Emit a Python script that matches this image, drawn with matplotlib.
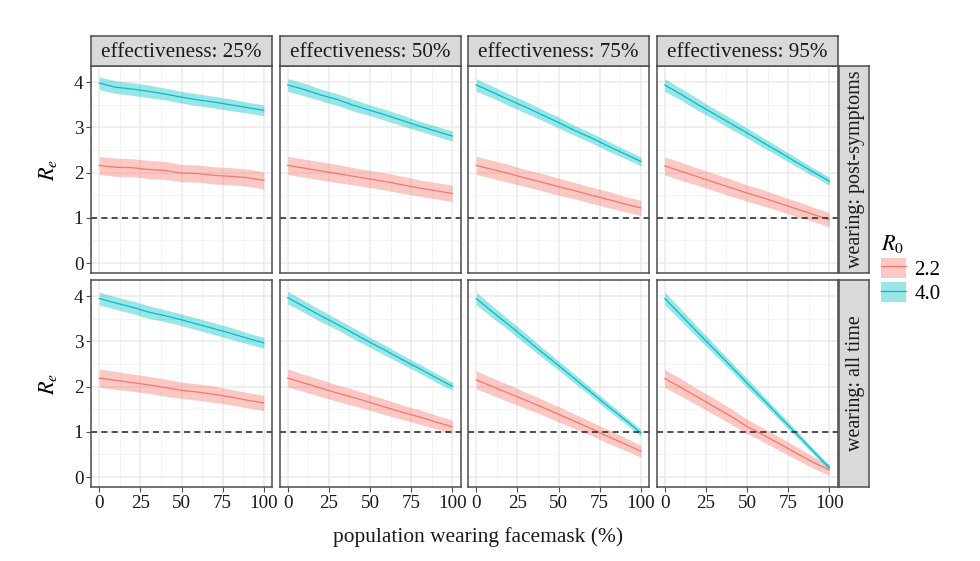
import matplotlib
matplotlib.use("Agg")
import matplotlib.pyplot as plt
from matplotlib.patches import Patch
from matplotlib.lines import Line2D
from matplotlib.legend_handler import HandlerTuple
from matplotlib.ticker import MultipleLocator

plt.rcParams['font.family'] = ['Liberation Serif', 'DejaVu Serif']
plt.rcParams['mathtext.fontset'] = 'stix'

# ---------------- data ----------------
x_pct = [0, 10, 20, 30, 40, 50, 60, 70, 80, 90, 100]
effectiveness_labels = ["effectiveness: 25%", "effectiveness: 50%",
                        "effectiveness: 75%", "effectiveness: 95%"]
wearing_labels = ["wearing: post-symptoms", "wearing: all time"]
r0_labels = ["2.2", "4.0"]
x_ticks = [0, 25, 50, 75, 100]
y_ticks = [0, 1, 2, 3, 4]

# wearing: post-symptoms, R0 = 2.2 (one list per effectiveness)
post_r22 = [
    [2.16, 2.12, 2.11, 2.07, 2.05, 1.99, 1.98, 1.94, 1.92, 1.89, 1.83],
    [2.16, 2.10, 2.04, 1.98, 1.92, 1.86, 1.80, 1.73, 1.66, 1.60, 1.54],
    [2.16, 2.07, 1.98, 1.88, 1.79, 1.69, 1.60, 1.50, 1.41, 1.31, 1.22],
    [2.15, 2.03, 1.91, 1.79, 1.67, 1.55, 1.44, 1.32, 1.20, 1.08, 0.96],
]
post_r40 = [
    [3.98, 3.89, 3.85, 3.80, 3.74, 3.67, 3.61, 3.56, 3.50, 3.44, 3.38],
    [3.94, 3.84, 3.72, 3.62, 3.49, 3.38, 3.27, 3.15, 3.03, 2.92, 2.81],
    [3.94, 3.78, 3.61, 3.45, 3.28, 3.11, 2.93, 2.77, 2.59, 2.42, 2.25],
    [3.94, 3.73, 3.51, 3.30, 3.09, 2.88, 2.66, 2.45, 2.23, 2.02, 1.81],
]
# wearing: all time
all_r22 = [
    [2.19, 2.14, 2.09, 2.04, 1.98, 1.92, 1.88, 1.83, 1.77, 1.70, 1.64],
    [2.19, 2.08, 1.97, 1.86, 1.76, 1.65, 1.54, 1.43, 1.33, 1.22, 1.11],
    [2.15, 2.00, 1.85, 1.70, 1.55, 1.39, 1.23, 1.07, 0.90, 0.74, 0.57],
    [2.18, 1.98, 1.77, 1.56, 1.35, 1.12, 0.93, 0.73, 0.53, 0.33, 0.16],
]
all_r40 = [
    [3.95, 3.85, 3.76, 3.65, 3.57, 3.48, 3.38, 3.28, 3.18, 3.07, 2.97],
    [3.97, 3.77, 3.57, 3.38, 3.18, 2.98, 2.79, 2.59, 2.40, 2.20, 2.01],
    [3.95, 3.65, 3.36, 3.06, 2.76, 2.47, 2.17, 1.87, 1.57, 1.28, 0.98],
    [3.95, 3.58, 3.20, 2.83, 2.46, 2.08, 1.71, 1.33, 0.96, 0.58, 0.21],
]
# half-widths of the uncertainty ribbons
post_r22_hw = [
    [0.20, 0.20, 0.20, 0.20, 0.20, 0.19, 0.19, 0.19, 0.19, 0.19, 0.19],
    [0.20, 0.20, 0.20, 0.20, 0.19, 0.19, 0.19, 0.19, 0.18, 0.18, 0.18],
    [0.20, 0.20, 0.20, 0.19, 0.19, 0.19, 0.18, 0.18, 0.18, 0.17, 0.17],
    [0.20, 0.20, 0.19, 0.19, 0.19, 0.18, 0.18, 0.17, 0.17, 0.16, 0.16],
]
post_r40_hw = [
    [0.14, 0.14, 0.14, 0.14, 0.13, 0.13, 0.13, 0.13, 0.13, 0.12, 0.12],
    [0.14, 0.14, 0.13, 0.13, 0.13, 0.12, 0.12, 0.12, 0.11, 0.11, 0.11],
    [0.14, 0.13, 0.13, 0.13, 0.12, 0.12, 0.11, 0.11, 0.11, 0.10, 0.10],
    [0.14, 0.13, 0.13, 0.12, 0.12, 0.11, 0.11, 0.10, 0.10, 0.09, 0.09],
]
all_r22_hw = [
    [0.20, 0.20, 0.19, 0.19, 0.19, 0.18, 0.18, 0.18, 0.17, 0.17, 0.17],
    [0.20, 0.19, 0.19, 0.18, 0.18, 0.17, 0.17, 0.16, 0.16, 0.15, 0.15],
    [0.20, 0.19, 0.19, 0.18, 0.17, 0.17, 0.16, 0.15, 0.15, 0.14, 0.13],
    [0.20, 0.19, 0.18, 0.18, 0.17, 0.16, 0.15, 0.15, 0.14, 0.13, 0.12],
]
all_r40_hw = [
    [0.14, 0.14, 0.14, 0.14, 0.13, 0.13, 0.13, 0.13, 0.13, 0.12, 0.12],
    [0.14, 0.13, 0.13, 0.12, 0.12, 0.11, 0.11, 0.10, 0.10, 0.10, 0.09],
    [0.14, 0.13, 0.12, 0.12, 0.11, 0.10, 0.10, 0.09, 0.09, 0.08, 0.08],
    [0.14, 0.13, 0.12, 0.11, 0.10, 0.10, 0.09, 0.08, 0.07, 0.06, 0.06],
]

colors = ["#F8766D", "#00BFC4"]
rows = [
    (post_r22, post_r22_hw, post_r40, post_r40_hw),
    (all_r22, all_r22_hw, all_r40, all_r40_hw),
]

# ---------------- layout ----------------
W, H = 980, 561
fig = plt.figure(figsize=(W / 100, H / 100), dpi=100)

col_left = [91, 279.5, 468, 656.5]
panel_w = 181
row_top = [66, 280]
panel_h = 207
border = "#4D4D4D"


def rect(l, t, w, h):
    return [l / W, 1 - (t + h) / H, w / W, h / H]


for r in range(2):
    r22, r22hw, r40, r40hw = rows[r]
    for c in range(4):
        ax = fig.add_axes(rect(col_left[c], row_top[r], panel_w, panel_h))
        ax.set_xlim(-5, 105)
        ax.set_ylim(-0.22, 4.36)
        ax.set_axisbelow(True)
        ax.xaxis.set_major_locator(MultipleLocator(25))
        ax.xaxis.set_minor_locator(MultipleLocator(12.5))
        ax.yaxis.set_major_locator(MultipleLocator(1))
        ax.yaxis.set_minor_locator(MultipleLocator(0.5))
        ax.grid(True, which="major", color="#EBEBEB", lw=1.1)
        ax.grid(True, which="minor", color="#F2F2F2", lw=0.6)
        for s in ax.spines.values():
            s.set_color(border)
            s.set_linewidth(1.1)
        ax.tick_params(which="minor", length=0)
        ax.tick_params(which="major", length=3.5, color=border, width=0.8,
                       labelsize=13.8, labelcolor="#1A1A1A", pad=2)
        ax.set_xticks(x_ticks)
        ax.set_yticks(y_ticks)
        if r == 0:
            ax.tick_params(axis="x", bottom=False, labelbottom=False)
        if c > 0:
            ax.tick_params(axis="y", left=False, labelleft=False)

        for vals, hw, col in ((r22[c], r22hw[c], colors[0]),
                              (r40[c], r40hw[c], colors[1])):
            lo = [v - h for v, h in zip(vals, hw)]
            hi = [v + h for v, h in zip(vals, hw)]
            ax.fill_between(x_pct, lo, hi, color=col, alpha=0.4, lw=0)
            ax.plot(x_pct, vals, color=col, lw=0.9)
        ax.axhline(1, color="#333333", lw=1.2, linestyle=(0, (3.6, 2.6)))

        # top strips
        if r == 0:
            sax = fig.add_axes(rect(col_left[c], 36, panel_w, 30))
            sax.set_facecolor("#D9D9D9")
            sax.set_xticks([])
            sax.set_yticks([])
            for s in sax.spines.values():
                s.set_color(border)
                s.set_linewidth(1.1)
            sax.text(0.5, 0.45, effectiveness_labels[c], ha="center",
                     va="center", fontsize=15.2, color="#1A1A1A",
                     transform=sax.transAxes)
    # right strips
    sax = fig.add_axes(rect(839, row_top[r], 30, panel_h))
    sax.set_facecolor("#D9D9D9")
    sax.set_xticks([])
    sax.set_yticks([])
    for s in sax.spines.values():
        s.set_color(border)
        s.set_linewidth(1.1)
    sax.text(0.55, 0.5, wearing_labels[r], ha="center", va="center",
             rotation=90, fontsize=14.4, color="#1A1A1A",
             transform=sax.transAxes)
    # y label
    fig.text(48 / W, 1 - (row_top[r] + panel_h / 2) / H, "$R_e$",
             rotation=90, ha="center", va="center", fontsize=16)

fig.text(478 / W, 1 - 537 / H, "population wearing facemask (%)",
         ha="center", va="center", fontsize=15.4, color="#1A1A1A")

# legend
handles = []
for col in colors:
    handles.append((Patch(facecolor=col, alpha=0.4, edgecolor="none"),
                    Line2D([], [], color=col, lw=0.9)))
leg = fig.legend(handles, r0_labels, title="$R_0$",
                 handler_map={tuple: HandlerTuple(ndivide=1, pad=0)},
                 loc="upper left", bbox_to_anchor=(881 / W, 1 - 233 / H),
                 frameon=False, fontsize=15, title_fontsize=16,
                 handlelength=1.2, handleheight=1.1, handletextpad=0.4,
                 labelspacing=0.12, borderpad=0, borderaxespad=0,
                 alignment="left")

fig.savefig("out.png", dpi=100)
